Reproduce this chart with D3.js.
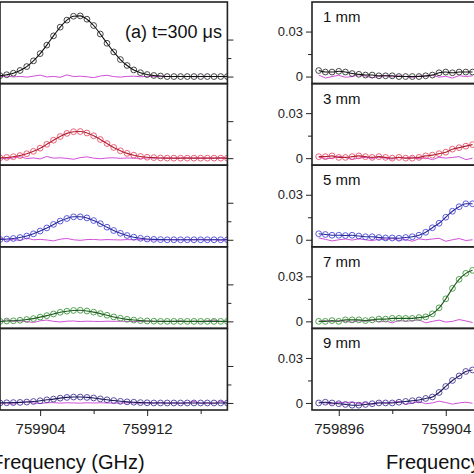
<!DOCTYPE html><html><head><script src="https://cdn.jsdelivr.net/npm/d3@7"></script>
<style>body{margin:0;background:#fff}svg{display:block}</style></head><body><svg id="c" width="474" height="474"></svg>
<script>
const leftX = [];
for (let i = 0; i < 35; i++) leftX.push(759901 + i * 0.5);
const rightX = [];
for (let i = 0; i < 24; i++) rightX.push(759894.5 + i * 0.5);
const left1 = [0.0005,0.001,0.0018,0.0033,0.0054,0.0085,0.0124,0.017,0.022,0.0267,0.0305,0.0326,0.0328,0.031,0.0276,0.023,0.018,0.0133,0.0092,0.006,0.0036,0.0021,0.0011,0.0006,0.0003,0,0,0,0,0,0,0,0,0,0];
const left2 = [0.0002,0.0004,0.0008,0.0014,0.0024,0.0037,0.0054,0.0075,0.0097,0.0117,0.0134,0.0143,0.0144,0.0136,0.0121,0.0101,0.0079,0.0058,0.004,0.0026,0.0016,0.0009,0.0005,0.0003,0.0001,0,0,0,0,0,0,0,0,0,0];
const left3 = [0.0002,0.0004,0.0007,0.0012,0.002,0.0032,0.0047,0.0064,0.0083,0.0101,0.0115,0.0124,0.0124,0.0118,0.0104,0.0087,0.0068,0.005,0.0035,0.0023,0.0014,0.0008,0.0004,0.0002,0.0001,0,0,0,0,0,0,0,0,0,0];
const left4 = [0,0.0002,0.0003,0.0006,0.001,0.0015,0.0023,0.0031,0.004,0.0049,0.0055,0.0059,0.006,0.0056,0.005,0.0042,0.0033,0.0024,0.0017,0.0011,0.0007,0.0004,0.0002,0.0001,0,0,0,0,0,0,0,0,0,0,0];
const left5 = [0,0.0001,0.0002,0.0003,0.0005,0.0008,0.0012,0.0017,0.0021,0.0026,0.003,0.0032,0.0032,0.003,0.0027,0.0022,0.0017,0.0013,0.0009,0.0006,0.0004,0.0002,0.0001,0,0,0,0,0,0,0,0,0,0,0,0];
const leftNoise = [0,0.0003,-0.0002,0.0001,-0.0003,0.0002,0.0008,-0.0002,0.0001,-0.0004,0.0009,0,0.0002,-0.0001,-0.0006,0.0003,0.0007,0,-0.0003,0.0001,0.0002,-0.0001,0.0001,0,-0.0001,0.0001,0,0.0001,0,-0.0001,0,0.0001,0,0,0];
const right1 = [0.004,0.003,0.003,0.0035,0.003,0.002,0.0015,0.001,0.001,0.0005,0.0005,0.0005,0,0,0,0,0.0005,0.001,0.0025,0.003,0.0025,0.003,0.003,0.003];
const right2 = [0.001,0.001,0.0015,0.0005,0.0005,0.001,0.0015,0.001,0.0005,0.001,0.0005,0,0.0005,0,0,0.0005,0.0015,0.002,0.003,0.004,0.006,0.007,0.008,0.009];
const right3 = [0.004,0.0035,0.003,0.003,0.0028,0.003,0.0025,0.002,0.002,0.0015,0.0012,0.0012,0.001,0.0015,0.002,0.003,0.005,0.008,0.011,0.015,0.019,0.022,0.024,0.024];
const right4 = [0,0,0.0005,0,0.001,0.001,0.001,0.0005,0.001,0.0015,0.0015,0.002,0.002,0.002,0.002,0.0025,0.003,0.005,0.009,0.015,0.022,0.028,0.032,0.034];
const right5 = [0,0.0005,0,-0.0005,-0.001,-0.0015,-0.0015,-0.001,-0.0005,0,0,0,0.0005,0.001,0.0015,0.002,0.003,0.004,0.007,0.011,0.015,0.018,0.021,0.022];
const rightNoise = [0.001,-0.001,0,0.0008,-0.0005,0,0.0012,0.0003,-0.0008,0,0.0005,-0.0002,0.0006,0,-0.0006,0.0004,0,0.0008,-0.0004,0.0002,-0.001,0.0006,0,0.0005];
const colors = ["#333333","#e8506a","#4a4ad8","#3f9a3f","#4a3a9a"];
const fitColors = ["#111111","#b02030","#2a2a9a","#1f5a1f","#1a1a5a"];
const labels = ["1 mm","3 mm","5 mm","7 mm","9 mm"];
const leftSeries = [left1,left2,left3,left4,left5];
const rightSeries = [right1,right2,right3,right4,right5];
const leftTicks = [759904, 759912];
const rightTicks = [759896, 759904];

const svg = d3.select("#c");
const tops = [2, 83.6, 165.2, 246.8, 328.4];
const ph = 81.6;
const xL = d3.scaleLinear().domain([759901, 759918]).range([0, 227.4]);
const xR = d3.scaleLinear().domain([759894, 759911]).range([312, 539.4]);
const font = "Arial, 'Liberation Sans', sans-serif";

function panel(x, xs, ys, i, side) {
  const t = tops[i];
  const y = side === "L"
    ? d3.scaleLinear().domain([-0.0038, 0.0403]).range([t + ph, t])
    : d3.scaleLinear().domain([-0.0047, 0.0497]).range([t + ph, t]);
  const g = svg.append("g");
  const cid = "clip" + side + i;
  svg.append("clipPath").attr("id", cid).append("rect")
    .attr("x", x.range()[0]).attr("y", t).attr("width", x.range()[1] - x.range()[0]).attr("height", ph);
  const inner = g.append("g").attr("clip-path", `url(#${cid})`);
  const noise = side === "L" ? leftNoise : rightNoise;
  inner.append("path").datum(xs.map((d, k) => [d, noise[(k + i * 3) % noise.length]]))
    .attr("d", d3.line().x(d => x(d[0])).y(d => y(d[1])))
    .attr("fill", "none").attr("stroke", "#d050d8").attr("stroke-width", 1);
  inner.selectAll("circle").data(xs.map((d, k) => [d, ys[k]])).join("circle")
    .attr("cx", d => x(d[0])).attr("cy", d => y(d[1])).attr("r", 2.9)
    .attr("fill", "none").attr("stroke", colors[i]).attr("stroke-width", 0.9);
  inner.append("path").datum(xs.map((d, k) => [d, ys[k]]))
    .attr("d", d3.line().curve(d3.curveMonotoneX).x(d => x(d[0])).y(d => y(d[1])))
    .attr("fill", "none").attr("stroke", fitColors[i]).attr("stroke-width", 1.1);
  g.append("rect").attr("x", x.range()[0]).attr("y", t).attr("width", x.range()[1] - x.range()[0]).attr("height", ph)
    .attr("fill", "none").attr("stroke", "#222").attr("stroke-width", 1.6);
  if (side === "L") {
    const ax = g.append("g").attr("transform", `translate(${x.range()[1]},0)`)
      .call(d3.axisRight(y).tickValues([0, 0.01, 0.02]).tickSize(6).tickFormat(""));
    ax.select(".domain").remove();
    ax.selectAll("line").attr("stroke", "#222");
    ax.selectAll(".tick").filter(d => d === 0.01).select("line").attr("x2", 4);
  } else {
    const ax = g.append("g").attr("transform", `translate(${x.range()[0]},0)`)
      .call(d3.axisLeft(y).tickValues([0, 0.015, 0.03]).tickSize(6).tickFormat(d => d === 0.015 ? "" : (d === 0 ? "0" : "0.03")));
    ax.select(".domain").remove();
    ax.selectAll("line").attr("stroke", "#222");
    ax.selectAll(".tick").filter(d => d === 0.015).select("line").attr("x2", -4);
    ax.selectAll("text").attr("font-family", font).attr("font-size", 13).attr("fill", "#222").attr("x", -9);
    g.append("text").attr("x", x.range()[0] + 11).attr("y", t + 20).text(labels[i])
      .attr("font-family", font).attr("font-size", 15).attr("fill", "#111");
  }
  if (i === 4) {
    const bt = side === "L" ? leftTicks : rightTicks;
    const minor = side === "L" ? [759908, 759916] : [759900, 759908];
    const ax = g.append("g").attr("transform", `translate(0,${t + ph})`)
      .call(d3.axisBottom(x).tickValues(bt.concat(minor)).tickSize(6).tickFormat(d => bt.includes(d) ? d : ""));
    ax.select(".domain").remove();
    ax.selectAll("line").attr("stroke", "#222");
    ax.selectAll(".tick").filter(d => minor.includes(d)).select("line").attr("y2", 4);
    ax.selectAll("text").attr("font-family", font).attr("font-size", 15).attr("fill", "#222").attr("y", 13);
  }
}
for (let i = 0; i < 5; i++) {
  panel(xL, leftX, leftSeries[i], i, "L");
  panel(xR, rightX, rightSeries[i], i, "R");
}
svg.append("text").attr("x", 222).attr("y", 38).attr("text-anchor", "end")
  .attr("font-family", font).attr("font-size", 18).attr("fill", "#111").text("(a) t=300 μs");
svg.append("text").attr("x", 68).attr("y", 469).attr("text-anchor", "middle")
  .attr("font-family", font).attr("font-size", 20).attr("fill", "#111").text("Frequency (GHz)");
svg.append("text").attr("x", 386).attr("y", 469)
  .attr("font-family", font).attr("font-size", 20).attr("fill", "#111").text("Frequency (GHz)");
</script></body></html>
